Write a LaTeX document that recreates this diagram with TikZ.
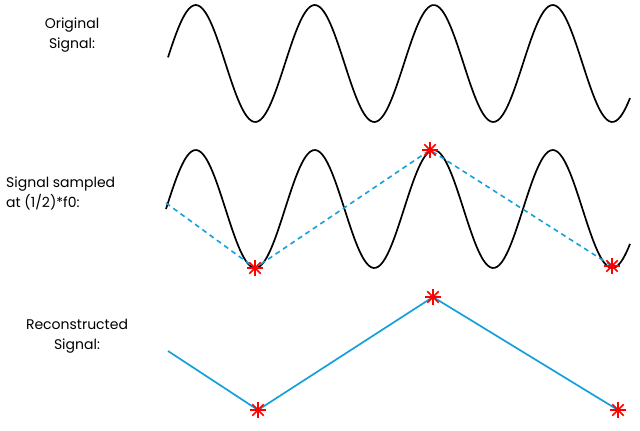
\documentclass[tikz,border=0pt]{standalone}
\usepackage{fontspec}
\setmainfont{Poppins}
\begin{document}
\begin{tikzpicture}[x=1pt,y=-1pt,
  wave/.style={line width=1.7pt,black},
  dashblue/.style={line width=1.6pt,draw={rgb,255:red,20;green,160;blue,220},dashed,dash pattern=on 5pt off 4pt},
  solidblue/.style={line width=1.7pt,draw={rgb,255:red,20;green,160;blue,220}},
  lbl/.style={font=\fontsize{14}{20}\selectfont,align=center,inner sep=0pt}]
\useasboundingbox (0,0) rectangle (640,431);
% labels
\node[lbl] (l1) at (72,35) {Original\\Signal:};
\node[lbl,align=left,anchor=west] (l2) at (6,193) {Signal sampled\\at (1/2)*f0:};
\node[lbl] (l3) at (77,336) {Reconstructed\\Signal:};
% waves
\draw[wave] plot[domain=168:630,samples=200,smooth] (\x,{63.5-58.5*sin(3.02521*(\x-166))});
\draw[wave] plot[domain=166:630,samples=200,smooth] (\x,{209-59*sin(3.02521*(\x-166))});
% dashed
\coordinate (d0) at (166,203);
\coordinate (s1) at (255,268);
\coordinate (s2) at (430,150);
\coordinate (s3) at (612,266);
\draw[dashblue] (d0) -- (s1) -- (s2) -- (s3);
% reconstructed
\coordinate (r0) at (168,351);
\coordinate (r1) at (258,410);
\coordinate (r2) at (433,297);
\coordinate (r3) at (618,410);
\draw[solidblue] (r0) -- (r1) -- (r2) -- (r3);
\foreach \p in {s1,s2,s3,r1,r2,r3}{
  \foreach \a in {0,45,90,135}{\draw[red,line width=1.7pt] (\p) ++(\a:8) -- ++(\a+180:16);}}
\end{tikzpicture}
\end{document}
